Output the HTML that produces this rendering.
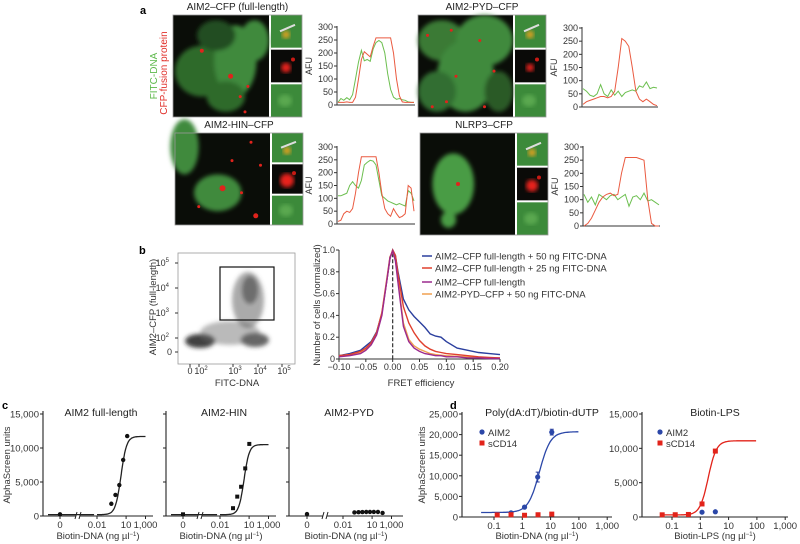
<!DOCTYPE html>
<html><head><meta charset="utf-8"><style>
body{margin:0;background:#fff;}
svg{display:block;font-family:"Liberation Sans",sans-serif;}
</style></head><body>
<svg id="fig" width="800" height="544" viewBox="0 0 800 544">
<defs>
<filter id="blur2"><feGaussianBlur stdDeviation="2"/></filter>
<filter id="blur4"><feGaussianBlur stdDeviation="4"/></filter>
</defs>
</svg>
<script>
// ---------- Panel a: line profiles ----------
const p1Red   = [10,10,10,12,10,10,30,100,175,205,195,185,225,258,258,258,258,258,258,200,100,35,12,10,10,10,10];
const p1Green = [10,25,18,28,20,40,100,165,210,170,175,168,215,240,248,240,200,120,60,30,22,25,20,18,12,10,10];
const p2Red   = [10,15,40,50,45,60,120,200,262,262,262,262,262,262,200,120,60,40,30,60,40,25,30,40,150,140,50];
const p2Green = [110,110,115,120,150,165,150,140,170,230,240,248,245,230,170,110,100,90,85,80,75,80,75,70,130,120,90];
const p3Red   = [10,20,25,30,35,40,40,35,40,60,150,260,250,230,150,60,30,20,30,20,10,5];
const p3Green = [70,60,45,40,50,85,50,40,65,45,60,40,55,60,65,60,80,75,95,70,75,72];
const p4Red   = [0,10,30,60,90,110,120,125,115,120,200,260,260,260,260,255,250,100,10,0,0];
const p4Green = [120,90,110,80,120,110,100,115,120,100,110,120,75,110,115,100,125,95,100,90,80];
const afuTicks = [0,50,100,150,200,250,300];
// ---------- Panel b: FRET ----------
const fretX = [-0.10,-0.08,-0.06,-0.05,-0.04,-0.03,-0.02,-0.01,-0.005,0,0.005,0.01,0.02,0.03,0.04,0.05,0.06,0.07,0.08,0.09,0.10,0.12,0.14,0.16,0.18,0.20];
const fretBlue   = [0.03,0.05,0.08,0.12,0.16,0.25,0.42,0.75,0.92,1.0,0.95,0.8,0.55,0.45,0.39,0.34,0.29,0.23,0.21,0.2,0.16,0.1,0.08,0.06,0.05,0.04];
const fretRed    = [0.03,0.04,0.07,0.1,0.15,0.24,0.42,0.75,0.93,1.0,0.95,0.78,0.48,0.33,0.24,0.17,0.12,0.09,0.07,0.06,0.05,0.04,0.03,0.02,0.015,0.01];
const fretPurple = [0.02,0.03,0.05,0.08,0.13,0.22,0.4,0.75,0.93,0.99,0.9,0.7,0.3,0.16,0.1,0.07,0.05,0.04,0.03,0.03,0.02,0.02,0.01,0.01,0.005,0.005];
const fretOrange = [0.03,0.04,0.06,0.09,0.14,0.24,0.43,0.77,0.94,0.98,0.92,0.72,0.33,0.18,0.12,0.09,0.07,0.05,0.04,0.035,0.03,0.025,0.02,0.015,0.01,0.01];
const fretXTicks = [-0.10,-0.05,0.00,0.05,0.10,0.15,0.20];
const fretXTickLabels = ["\u22120.10","\u22120.05","0.00","0.05","0.10","0.15","0.20"];
const fretYTicks = [0,0.2,0.4,0.6,0.8,1.0];
const fretYTickLabels = ["0","0.2","0.4","0.6","0.8","1.0"];
const fretLegend = ["AIM2\u2013CFP full-length + 50 ng FITC-DNA","AIM2\u2013CFP full-length + 25 ng FITC-DNA","AIM2\u2013CFP full-length","AIM2-PYD\u2013CFP + 50 ng FITC-DNA"];
// ---------- Panel c ----------
const c1X = [0.3,0.8,2,5,13];
const c1Y = [1800,3100,4550,8250,11750];
const c1Zero = [250];
const c1Fit = [200,11700,3,1.5];
const c2X = [0.22,0.6,1.5,4,10.5];
const c2Y = [1150,2850,4300,7000,10600];
const c2Zero = [250];
const c2Fit = [200,10500,3,1.6];
const c3X = [0.025,0.06,0.15,0.4,1,2.5,6,15,40,120];
const c3Y = [520,560,580,590,600,600,590,450];
const c3Zero = [280];
const cYTicks = [0,5000,10000,15000];
const cYTickLabels = ["0","5,000","10,000","15,000"];
const cXTicks = [0.01,10,1000];
const cXTickLabels = ["0.01","10","1,000"];
// ---------- Panel d ----------
const d1X = [0.4,1.2,3.5,11];
const d1Aim2 = [1000,2400,9700,20600];
const d1Aim2Err = [150,300,1200,700];
const d1sX = [0.13,0.4,1.2,3.6,11];
const d1sCD14 = [500,560,420,550,700];
const d1Fit = [1100,20700,4,2.2];
const d2sX = [0.045,0.13,0.38,1.15,3.4];
const d2sCD14 = [320,330,370,1900,9600];
const d2aX = [1.15,3.4];
const d2Aim2 = [700,760];
const d2Fit = [300,11100,1.9,3];
const d1YTicks = [0,5000,10000,15000,20000,25000];
const d1YTickLabels = ["0","5,000","10,000","15,000","20,000","25,000"];
const d2YTicks = [0,5000,10000,15000];
const d2YTickLabels = ["0","5,000","10,000","15,000"];
const dXTicks = [0.1,1,10,100,1000];
const dXTickLabels = ["0.1","1","10","100","1,000"];

const NS="http://www.w3.org/2000/svg";
const svg=document.getElementById('fig');
function el(tag,attrs,parent){const e=document.createElementNS(NS,tag);for(const k in attrs)e.setAttribute(k,attrs[k]);(parent||svg).appendChild(e);return e;}
function txt(x,y,s,size,anchor,fill,parent){const t=el('text',{x:x,y:y,'font-size':size,'text-anchor':anchor||'start',fill:fill||'#222'},parent);t.textContent=s;return t;}
function pathD(pts){return pts.map((p,i)=>(i?'L':'M')+p[0].toFixed(1)+','+p[1].toFixed(1)).join('');}

let L;
L=txt(140,14,'a',11,'start','#000');L.setAttribute('font-weight','bold');


L=txt(139,254,'b',11,'start','#000');L.setAttribute('font-weight','bold');


L=txt(2,409,'c',11,'start','#000');L.setAttribute('font-weight','bold');


L=txt(450,409,'d',11,'start','#000');L.setAttribute('font-weight','bold');



function micro(x,y,w,h,title,name,blobs,reds,insetRedBig){
  const g=el('g',{});
  
  
  const t=txt(x+(w+33)/2,y-5,title,10,'middle','#222',g);
  
  
  el('rect',{x:x,y:y,width:w,height:h,fill:'#0a0d08'},g);
  const bg=el('g',{filter:'url(#blur2)'},g);
  blobs.forEach(b=>{el('ellipse',{cx:x+b[0]*w,cy:y+b[1]*h,rx:b[2]*w,ry:b[3]*h,fill:b[4]||'#3f8a3c'},bg);});
  reds.forEach(r=>{el('circle',{cx:x+r[0]*w,cy:y+r[1]*h,r:r[2]||1.5,fill:'#e0231c'},g);});
  const ix=x+w+2, iw=31, ih=(h-4)/3;
  for(let i=0;i<3;i++){
    const iy=y+i*(ih+2);
    const r=el('rect',{x:ix,y:iy,width:iw,height:ih,fill:i==1?'#0a0a08':'#3c8a3a'},g);
    
    
    if(i==0){el('circle',{cx:ix+15,cy:iy+ih*0.6,r:4,fill:'#d9a020',filter:'url(#blur2)'},g);el('line',{x1:ix+9,y1:iy+ih*0.5,x2:ix+24,y2:iy+ih*0.3,stroke:'#ddd','stroke-width':2},g);}
    if(i==1){el('circle',{cx:ix+15,cy:iy+ih*0.55,r:insetRedBig,fill:'#e8201a',filter:'url(#blur2)'},g);el('circle',{cx:ix+22,cy:iy+ih*0.3,r:2,fill:'#c81a14'},g);}
    if(i==2){el('ellipse',{cx:ix+14,cy:iy+ih*0.5,rx:7,ry:6,fill:'#5aa84f',filter:'url(#blur2)'},g);}
  }
  el('rect',{x:x,y:y,width:w+iw+2,height:h,fill:'none',stroke:'#999','stroke-width':0.8},g);
  return g;
}
micro(173,15,96,102,'AIM2\u2013CFP (full-length)','image-aim2-full',
  [[0.3,0.55,0.28,0.25,'#2d6a2c'],[0.65,0.45,0.22,0.35],[0.85,0.25,0.15,0.2],[0.45,0.2,0.2,0.15,'#234d22'],[0.55,0.8,0.2,0.15,'#2d6a2c']],
  [[0.3,0.35,2],[0.6,0.6,2.5],[0.7,0.8],[0.75,0.95],[0.78,0.7]],5);
micro(418,15,95,102,'AIM2-PYD\u2013CFP','image-aim2-pyd',
  [[0.25,0.25,0.25,0.2,'#3a7a36'],[0.7,0.25,0.3,0.25,'#3f8a3c'],[0.5,0.6,0.3,0.35,'#3f8a3c'],[0.2,0.75,0.2,0.2,'#336e30'],[0.85,0.75,0.15,0.2,'#2a5a28']],
  [[0.1,0.2],[0.35,0.15],[0.65,0.25],[0.4,0.6],[0.8,0.55],[0.3,0.85],[0.7,0.9],[0.15,0.9]],4);
micro(175,133,95,92,'AIM2-HIN\u2013CFP','image-aim2-hin',
  [[0.1,0.15,0.15,0.3,'#3f8a3c'],[0.45,0.65,0.25,0.2,'#3f8a3c']],
  [[0.5,0.6,3],[0.8,0.1],[0.9,0.35],[0.6,0.3],[0.25,0.8],[0.85,0.9,2.5],[0.7,0.65]],7);
micro(420,133,95,102,'NLRP3\u2013CFP','image-nlrp3',
  [[0.35,0.5,0.22,0.3,'#4a9c45'],[0.3,0.85,0.08,0.08,'#4a9c45']],
  [[0.4,0.5,2]],6);

L=txt(0,0,'FITC-DNA',10,'middle','#5cb84a');L.setAttribute('transform','translate(157,76) rotate(-90)');


L=txt(0,0,'CFP-fusion protein',10,'middle','#e0302a');L.setAttribute('transform','translate(167,73) rotate(-90)');



function profile(x0,x1,yTop,y0,red,green,name){
  const g=el('g',{});
  
  
  const ys=v=>y0-(v/300)*(y0-yTop);
  el('path',{d:'M'+x0+','+(yTop-1)+'V'+y0+'H'+x1,fill:'none',stroke:'#333','stroke-width':1},g);
  afuTicks.forEach(v=>{el('line',{x1:x0-3,x2:x0,y1:ys(v),y2:ys(v),stroke:'#333'},g);
    const t=txt(x0-4,ys(v)+3,String(v),9,'end','#333',g);
    
    });
  const a=txt(0,0,'AFU',9,'middle','#333',g);a.setAttribute('transform','translate('+(x0-25)+','+((yTop+y0)/2)+') rotate(-90)');
  
  
  [[green,'#6cbf4f'],[red,'#ea5a40']].forEach(([arr,c],k)=>{
    const pts=arr.map((v,i)=>[x0+1+i*(x1-x0-2)/(arr.length-1),ys(v)]);
    const p=el('path',{d:pathD(pts),fill:'none',stroke:c,'stroke-width':1},g);
    
    
  });
}
profile(337,415,27,105,p1Red,p1Green,'profile-aim2-full');
profile(582,658,28,107,p3Red,p3Green,'profile-aim2-pyd');
profile(337,415,147,224,p2Red,p2Green,'profile-aim2-hin');
profile(583,660,147,226,p4Red,p4Green,'profile-nlrp3');

(function(){
  const g=el('g',{});
  
  
  el('rect',{x:178,y:253,width:117,height:111,fill:'#fff',stroke:'#999','stroke-width':0.8},g);
  const d=el('g',{filter:'url(#blur2)'},g);
  el('ellipse',{cx:200,cy:341,rx:15,ry:7,fill:'#222',opacity:0.85},d);
  el('ellipse',{cx:255,cy:340,rx:14,ry:7,fill:'#333',opacity:0.75},d);
  el('ellipse',{cx:230,cy:333,rx:30,ry:12,fill:'#666',opacity:0.45},d);
  el('ellipse',{cx:248,cy:300,rx:16,ry:28,fill:'#555',opacity:0.5},d);
  el('ellipse',{cx:250,cy:290,rx:8,ry:14,fill:'#333',opacity:0.5},d);
  const gate=el('rect',{x:220,y:267,width:54,height:53,fill:'none',stroke:'#111','stroke-width':1.2},g);
  
  
  const yt=[[263,'10','5'],[288,'10','4'],[313,'10','3'],[338,'10','2'],[352,'0','']];
  yt.forEach(t=>{el('line',{x1:175,x2:178,y1:t[0],y2:t[0],stroke:'#333'},g);
    const tx=txt(172,t[0]+3,t[1],9,'end','#333',g);
    if(t[2]){const s=el('tspan',{dy:-4,'font-size':6},tx);s.textContent=t[2];tx.setAttribute('x',169);}
    
    });
  const xt=[[190,'0',''],[199,'10','2'],[233,'10','3'],[258,'10','4'],[282,'10','5']];
  xt.forEach(t=>{el('line',{x1:t[0],x2:t[0],y1:364,y2:367,stroke:'#333'},g);
    const tx=txt(t[0]+(t[2]?2:0),374,t[1],9,'middle','#333',g);
    if(t[2]){const s=el('tspan',{dy:-4,'font-size':6},tx);s.textContent=t[2];}
    
    });
  const xl=txt(237,386,'FITC-DNA',9.5,'middle','#333',g);
  
  
  const yl=txt(0,0,'AIM2\u2013CFP (full-length)',9.5,'middle','#333',g);yl.setAttribute('transform','translate(156,307) rotate(-90)');
  
  
})();

(function(){
  const x0=339,x1=500,yT=250,yB=359;
  const xs=v=>x0+(v+0.1)/0.3*(x1-x0);
  const ys=v=>yB-v*(yB-yT);
  const g=el('g',{});
  
  
  el('path',{d:'M'+x0+','+yT+'V'+yB+'H'+x1,fill:'none',stroke:'#333'},g);
  fretYTicks.forEach((v,i)=>{el('line',{x1:x0-3,x2:x0,y1:ys(v),y2:ys(v),stroke:'#333'},g);
    const t=txt(x0-4,ys(v)+3,fretYTickLabels[i],9,'end','#333',g);
    
    });
  fretXTicks.forEach((v,i)=>{el('line',{x1:xs(v),x2:xs(v),y1:yB,y2:yB+3,stroke:'#333'},g);
    const t=txt(xs(v),yB+11,fretXTickLabels[i],9,'middle','#333',g);
    
    });
  const xl=txt(421,386,'FRET efficiency',9.5,'middle','#333',g);
  
  
  const yl=txt(0,0,'Number of cells (normalized)',9.5,'middle','#333',g);yl.setAttribute('transform','translate(320,305) rotate(-90)');
  
  
  const dl=el('line',{x1:xs(0),x2:xs(0),y1:ys(0.97),y2:yB,stroke:'#333','stroke-dasharray':'4,2','stroke-width':1.2},g);
  
  
  const series=[[fretBlue,'#2b3f9e','fret-line-50ng'],[fretOrange,'#f0a050','fret-line-pyd-50ng'],[fretRed,'#e0402e','fret-line-25ng'],[fretPurple,'#9b2a8e','fret-line-no-dna']];
  series.forEach(s=>{const p=el('path',{d:pathD(fretX.map((v,i)=>[xs(v),ys(s[0][i])])),fill:'none',stroke:s[1],'stroke-width':1.4},g);
    
    });
  const lc=['#2b3f9e','#e0402e','#9b2a8e','#f0a050'];
  const ly=[256,268,282,294];
  fretLegend.forEach((s,i)=>{
    const e=el('g',{},g);
    
    
    el('line',{x1:422,x2:432,y1:ly[i],y2:ly[i],stroke:lc[i],'stroke-width':1.5},e);
    txt(435,ly[i]+3.5,s,9.5,'start','#333',e);
  });
})();

function logistic(p,x){return p[0]+(p[1]-p[0])/(1+Math.pow(p[2]/x,p[3]));}
function cPanel(opt){
  const g=el('g',{});
  
  
  const yB=516,yT=414;
  const ys=v=>yB-v/15000*(yB-yT);
  const xs=v=>opt.x001+(Math.log10(v)+2)*9.7;
  el('path',{d:'M'+opt.ax+','+(yT-3)+'V'+yB+'H'+opt.end,fill:'none',stroke:'#222','stroke-width':1.1},g);
  cYTicks.forEach((v,i)=>{el('line',{x1:opt.ax-3,x2:opt.ax,y1:ys(v),y2:ys(v),stroke:'#222'},g);
    if(opt.labels){const t=txt(opt.ax-4,ys(v)+3.5,cYTickLabels[i],9.5,'end','#333',g);
      
      }});
  el('line',{x1:opt.zero,x2:opt.zero,y1:yB,y2:yB+3,stroke:'#222'},g);
  let t=txt(opt.zero,528,'0',9.5,'middle','#333',g);
  
  
  el('rect',{x:opt.brk-2,y:yB-4,width:4,height:8,fill:'#fff'},g);
  el('path',{d:'M'+(opt.brk-3)+','+(yB+3)+'l2,-7M'+(opt.brk+1)+','+(yB+3)+'l2,-7',stroke:'#222',fill:'none'},g);
  cXTicks.forEach((v,i)=>{el('line',{x1:xs(v),x2:xs(v),y1:yB,y2:yB+3,stroke:'#222'},g);
    const tt=txt(xs(v),528,cXTickLabels[i],9.5,'middle','#333',g);
    
    });
  t=txt((opt.ax+opt.end)/2,539,'Biotin-DNA (ng \u00b5l',9.5,'middle','#333',g);
  const s1=el('tspan',{dy:-3,'font-size':6},t);s1.textContent='\u22121';
  const s2=el('tspan',{dy:3},t);s2.textContent=')';
  
  
  t=txt((opt.ax+opt.end)/2+3,416,opt.title,10.5,'middle','#222',g);
  
  
  if(opt.fit){const pts=[];for(let lx=-2;lx<=3;lx+=0.05){const x=Math.pow(10,lx);pts.push([xs(x),ys(logistic(opt.fit,x))]);}
    el('path',{d:'M'+(opt.zero-12)+','+ys(opt.fit[0])+'H'+xs(0.005),stroke:'#222',fill:'none','stroke-width':1.2},g);
    const c=el('path',{d:pathD(pts),stroke:'#222',fill:'none','stroke-width':1.3},g);
    
    }
  const z=el(opt.sq?'rect':'circle',opt.sq?{x:opt.zero-2,y:ys(opt.zeroV[0])-2,width:4,height:4,fill:'#111'}:{cx:opt.zero,cy:ys(opt.zeroV[0]),r:2.2,fill:'#111'},g);
  
  
  opt.ysv.forEach((v,i)=>{const x=opt.xsv[i];
    const m=el(opt.sq?'rect':'circle',opt.sq?{x:xs(x)-2,y:ys(v)-2,width:4,height:4,fill:'#111'}:{cx:xs(x),cy:ys(v),r:2.2,fill:'#111'},g);
    
    });
}
cPanel({name:'chart-c-aim2-full-length',ax:43,end:153,zero:60,brk:78,x001:97,title:'AIM2 full-length',labels:true,fit:c1Fit,xsv:c1X,ysv:c1Y,zeroV:c1Zero,sq:false});
cPanel({name:'chart-c-aim2-hin',ax:166,end:276,zero:183,brk:200,x001:220,title:'AIM2-HIN',labels:false,fit:c2Fit,xsv:c2X,ysv:c2Y,zeroV:c2Zero,sq:true});
cPanel({name:'chart-c-aim2-pyd',ax:289,end:403,zero:307,brk:325,x001:343,title:'AIM2-PYD',labels:false,fit:null,xsv:c3X.slice(2),ysv:c3Y,zeroV:c3Zero,sq:false});
L=txt(0,0,'AlphaScreen units',9.5,'middle','#333');L.setAttribute('transform','translate(10,465) rotate(-90)');



function dPanel(opt){
  const g=el('g',{});
  
  
  const yB=517,yT=414;
  const ys=v=>yB-v/opt.ymax*(yB-yT);
  const xs=v=>opt.x01+(Math.log10(v)+1)*28.3;
  el('path',{d:'M'+opt.ax+','+(yT-2)+'V'+yB+'H'+opt.end,fill:'none',stroke:'#222','stroke-width':1.1},g);
  opt.yt.forEach((v,i)=>{el('line',{x1:opt.ax-3,x2:opt.ax,y1:ys(v),y2:ys(v),stroke:'#222'},g);
    const t=txt(opt.ax-4,ys(v)+3.5,opt.ytl[i],9.5,'end','#333',g);
    
    });
  dXTicks.forEach((v,i)=>{el('line',{x1:xs(v),x2:xs(v),y1:yB,y2:yB+3,stroke:'#222'},g);
    const t=txt(xs(v),529,dXTickLabels[i],9.5,'middle','#333',g);
    
    });
  let t=txt((opt.ax+opt.end)/2,539,opt.xl+' (ng \u00b5l',9.5,'middle','#333',g);
  let s1=el('tspan',{dy:-3,'font-size':6},t);s1.textContent='\u22121';
  let s2=el('tspan',{dy:3},t);s2.textContent=')';
  
  
  t=txt(opt.tx,416,opt.title,10.5,'middle','#222',g);
  
  
  const pts=[];for(let lx=Math.log10(opt.fx0);lx<=2.001;lx+=0.04){const x=Math.pow(10,lx);pts.push([xs(x),ys(logistic(opt.fit,x))]);}
  const c=el('path',{d:pathD(pts),stroke:opt.fc,fill:'none','stroke-width':1.3},g);
  
  
  opt.aY.forEach((v,i)=>{const x=xs(opt.aX[i]);
    if(opt.err){const e=opt.err[i];el('path',{d:'M'+x+','+ys(v-e)+'V'+ys(v+e)+'M'+(x-2)+','+ys(v-e)+'h4M'+(x-2)+','+ys(v+e)+'h4',stroke:'#2b3f9e',fill:'none'},g);}
    const m=el('circle',{cx:x,cy:ys(v),r:2.6,fill:'#2b47a8'},g);
    
    });
  opt.sY.forEach((v,i)=>{const x=xs(opt.sX[i]);
    const m=el('rect',{x:x-2.5,y:ys(v)-2.5,width:5,height:5,fill:'#e2231a'},g);
    
    });
  const l1=el('g',{},g);
  
  
  el('circle',{cx:opt.lx,cy:432,r:2.6,fill:'#2b47a8'},l1);txt(opt.lx+6,436,'AIM2',9.5,'start','#333',l1);
  const l2=el('g',{},g);
  
  
  el('rect',{x:opt.lx-2.5,y:440.5,width:5,height:5,fill:'#e2231a'},l2);txt(opt.lx+6,447,'sCD14',9.5,'start','#333',l2);
}
dPanel({name:'chart-d-poly-dadt',ax:462,end:612,x01:494,ymax:25000,yt:d1YTicks,ytl:d1YTickLabels,xl:'Biotin-DNA',title:'Poly(dA:dT)/biotin-dUTP',tx:542,fit:d1Fit,fc:'#2b47a8',fx0:0.035,aX:d1X,aY:d1Aim2,err:d1Aim2Err,sX:d1sX,sY:d1sCD14,lx:482});
dPanel({name:'chart-d-biotin-lps',ax:642,end:788,x01:672,ymax:15000,yt:d2YTicks,ytl:d2YTickLabels,xl:'Biotin-LPS',title:'Biotin-LPS',tx:715,fit:d2Fit,fc:'#e2231a',fx0:0.045,aX:d2aX,aY:d2Aim2,err:null,sX:d2sX,sY:d2sCD14,lx:660});
L=txt(0,0,'AlphaScreen units',9.5,'middle','#333');L.setAttribute('transform','translate(425,465) rotate(-90)');


</script>
</body></html>
